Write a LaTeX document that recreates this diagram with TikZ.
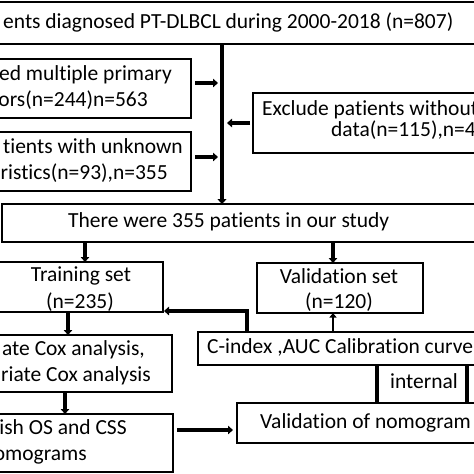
\documentclass[tikz,border=0pt]{standalone}
\usepackage{fontspec}
\setmainfont{Carlito}[Ligatures=NoCommon]
\usetikzlibrary{arrows.meta,fit}
\begin{document}
\begin{tikzpicture}[x=1pt,y=-1pt,
  box/.style={draw,line width=2pt,inner sep=0pt,outer sep=0pt},
  txt/.style={font=\fontsize{21.5}{26}\selectfont,inner sep=0pt},
  arr/.style={line width=3.2pt,-{Triangle[length=5pt,width=8.5pt]}},
  arrthin/.style={line width=2.4pt,-{Triangle[length=4.5pt,width=7pt]}},
  link/.style={line width=3.2pt}]
\useasboundingbox (0,0) rectangle (474,474);
\clip (0,0) rectangle (474,474);
% boxes
\node[box,fit={(-10,2) (490,44)}] (top) {};
\node[box,fit={(-10,59) (191,118)}] (b1) {};
\node[box,fit={(-10,132) (191,191)}] (b2) {};
\node[box,fit={(253,93) (490,153)}] (ex) {};
\node[box,fit={(2,204) (490,242)}] (there) {};
\node[box,fit={(-3,262) (163,312)}] (train) {};
\node[box,fit={(257,263) (423,313)}] (val) {};
\node[box,fit={(198,332) (490,365)}] (cidx) {};
\node[box,fit={(-10,335) (172,392)}] (cox) {};
\node[box,fit={(-10,414) (173,472)}] (est) {};
\node[box,fit={(237,403) (490,443)}] (vnom) {};
% texts
\node[txt,anchor=mid west] (t0) at (3,26) {ents diagnosed PT-DLBCL during 2000-2018 (n=807)};
\node[txt,anchor=mid east] (t1a) at (172,78) {ed multiple primary};
\node[txt,anchor=mid east] (t1b) at (148,104) {ors(n=244)n=563};
\node[txt,anchor=mid east] (t2a) at (183,151) {tients with unknown};
\node[txt,anchor=mid east] (t2b) at (168,177) {ristics(n=93),n=355};
\node[txt,anchor=mid west] (t3a) at (262,113) {Exclude patients without};
\node[txt,anchor=mid west] (t3b) at (331,134) {data(n=115),n=4};
\node[txt,anchor=mid west] (t4) at (68,225) {There were 355 patients in our study};
\node[txt] (t5a) at (81,276) {Training set};
\node[txt] (t5b) at (80,302) {(n=235)};
\node[txt] (t6a) at (339,276) {Validation set};
\node[txt] (t6b) at (339,302) {(n=120)};
\node[txt,anchor=mid west] (t7) at (207,351) {C-index ,AUC Calibration curve};
\node[txt,anchor=mid east] (t8a) at (145,353) {ate Cox analysis,};
\node[txt,anchor=mid east] (t8b) at (151,379) {riate Cox analysis};
\node[txt,anchor=mid east] (t9a) at (127,432) {ish OS and CSS};
\node[txt,anchor=mid east] (t9b) at (87,458) {omograms};
\node[txt,anchor=mid west] (t10) at (260,426) {Validation of nomogram};
\node[txt,anchor=mid west] (t11) at (390,386) {internal};
% junction coordinates
\coordinate (m) at (222,0);
\coordinate (j1) at (218,83);
\coordinate (j2) at (218,157);
\coordinate (j3) at (227,123);
\coordinate (a1) at (85,0);
\coordinate (a2) at (333,0);
\coordinate (a3) at (68,0);
\coordinate (a4) at (65,0);
\coordinate (fb) at (247,311);
\coordinate (ar) at (0,430);
\coordinate (l1) at (377,0);
\coordinate (l2) at (467,0);
% connectors
\draw[line width=3.6pt,-{Triangle[length=5pt,width=9pt]}] (top.south -| m) -- (there.north -| m);
\draw[arr,shorten <=4pt] (b1.east |- j1) -- (j1);
\draw[arr,shorten <=4pt] (b2.east |- j2) -- (j2);
\draw[arr,shorten <=3pt] (ex.west |- j3) -- (j3);
\draw[arr] (there.south -| a1) -- (train.north -| a1);
\draw[arr] (there.south -| a2) -- (val.north -| a2);
\draw[arrthin] (cidx.north -| a2) -- (val.south -| a2);
\draw[arr,shorten >=1pt] (cidx.north -| fb) -- (fb) -- (train.east |- fb);
\draw[arr] (train.south -| a3) -- (cox.north -| a3);
\draw[arr] (cox.south -| a4) -- (est.north -| a4);
\draw[arr,shorten <=4pt,shorten >=4pt] (est.east |- ar) -- (vnom.west |- ar);
\draw[link] (cidx.south -| l1) -- (vnom.north -| l1);
\draw[link] (cidx.south -| l2) -- (vnom.north -| l2);
\end{tikzpicture}
\end{document}
